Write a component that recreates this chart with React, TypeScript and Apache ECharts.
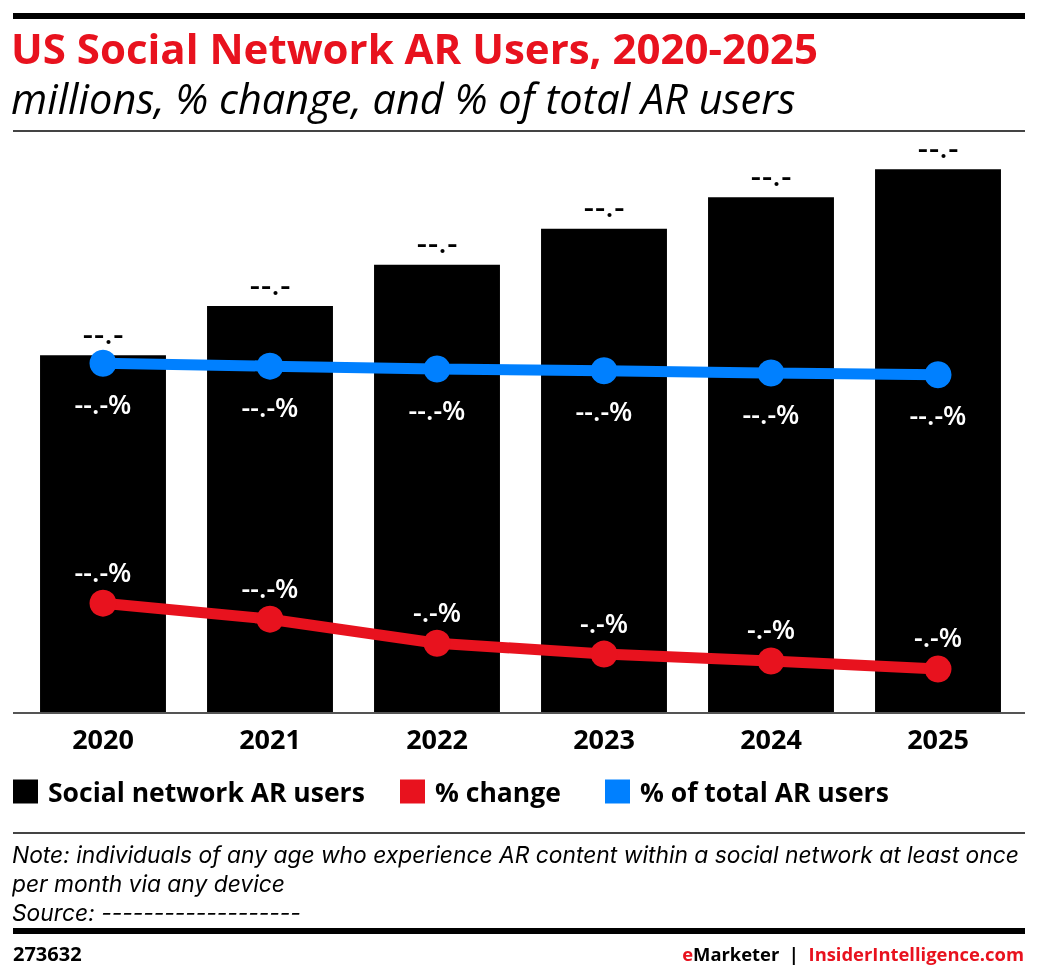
import React, { useEffect, useRef } from "react";
import * as echarts from "echarts";

const categories = ["2020", "2021", "2022", "2023", "2024", "2025"];
const arUsers = [62.4, 71.0, 78.2, 84.5, 90.0, 94.9];
const pctChange = [19.1, 16.3, 12.1, 10.2, 9.0, 7.6];
const pctOfTotal = [61.0, 60.5, 60.0, 59.7, 59.3, 59.0];
const arUsersLabels = ["--.-", "--.-", "--.-", "--.-", "--.-", "--.-"];
const pctChangeLabels = ["--.-%", "--.-%", "-.-%", "-.-%", "-.-%", "-.-%"];
const pctOfTotalLabels = ["--.-%", "--.-%", "--.-%", "--.-%", "--.-%", "--.-%"];
const noteLines = [
  "Note: individuals of any age who experience AR content within a social network at least once",
  "per month via any device",
  "Source: -------------------",
];

const FONT = "'Open Sans', 'Noto Sans', sans-serif";
const NOTE_FONT = "Inter, 'Open Sans', sans-serif";
const RED = "#E8121E";
const BLUE = "#0080FF";

export default function App() {
  const ref = useRef<HTMLDivElement>(null);
  useEffect(() => {
    if (!ref.current) return;
    const chart = echarts.init(ref.current, undefined, { renderer: "svg" });
    const legendText = { fontSize: 26.5, fontWeight: "bold", color: "#000", fontFamily: FONT, padding: [0, 0, 0, 5] };
    chart.setOption({
      animation: false,
      textStyle: { fontFamily: FONT },
      grid: { left: 19.5, right: 16.5, top: 140, bottom: 264.5, containLabel: false },
      xAxis: {
        type: "category",
        data: categories,
        axisLine: { show: false },
        axisTick: { show: false },
        axisLabel: { fontSize: 27, fontWeight: "bold", color: "#000", margin: 12, fontFamily: FONT },
      },
      yAxis: [
        { type: "value", min: 0, max: 100, show: false },
        { type: "value", min: 0, max: 100, show: false },
      ],
      legend: [
        { data: ["Social network AR users"], left: 13, top: 778, icon: "rect", itemWidth: 25, itemHeight: 24, padding: 0, textStyle: legendText },
        { data: ["% change"], left: 400, top: 778, icon: "rect", itemWidth: 25, itemHeight: 24, padding: 0, textStyle: legendText },
        { data: ["% of total AR users"], left: 605, top: 778, icon: "rect", itemWidth: 25, itemHeight: 24, padding: 0, textStyle: legendText },
      ],
      series: [
        {
          name: "Social network AR users",
          type: "bar",
          data: arUsers,
          barWidth: "75.4%",
          itemStyle: { color: "#000" },
          label: {
            show: true,
            position: "top",
            distance: 8,
            formatter: (p: any) => arUsersLabels[p.dataIndex],
            fontSize: 24,
            fontWeight: "bold",
            color: "#000",
            fontFamily: NOTE_FONT,
          },
        },
        {
          name: "% of total AR users",
          type: "line",
          yAxisIndex: 1,
          data: pctOfTotal,
          symbol: "circle",
          symbolSize: 27,
          lineStyle: { color: BLUE, width: 11 },
          itemStyle: { color: BLUE },
          label: {
            show: true,
            position: "bottom",
            distance: 13,
            formatter: (p: any) => pctOfTotalLabels[p.dataIndex],
            fontSize: 27,
            fontWeight: 600,
            color: "#fff",
            fontFamily: FONT,
          },
        },
        {
          name: "% change",
          type: "line",
          yAxisIndex: 1,
          data: pctChange,
          symbol: "circle",
          symbolSize: 27,
          lineStyle: { color: RED, width: 11 },
          itemStyle: { color: RED },
          label: {
            show: true,
            position: "top",
            distance: 5,
            formatter: (p: any) => pctChangeLabels[p.dataIndex],
            fontSize: 27,
            fontWeight: 600,
            color: "#fff",
            fontFamily: FONT,
          },
        },
      ],
      graphic: [
        { type: "rect", shape: { x: 13, y: 13, width: 1012, height: 6 }, style: { fill: "#000" } },
        {
          type: "text",
          x: 11,
          y: 47,
          style: { text: "US Social Network AR Users, 2020-2025", fill: RED, fontSize: 42, fontWeight: "bold", fontFamily: FONT, textVerticalAlign: "middle" },
        },
        {
          type: "text",
          x: 11,
          y: 98,
          style: { text: "millions, % change, and % of total AR users", fill: "#000", fontSize: 41.5, fontStyle: "italic", fontFamily: FONT, textVerticalAlign: "middle" },
        },
        { type: "line", shape: { x1: 13, y1: 131, x2: 1025, y2: 131 }, style: { stroke: "#444", lineWidth: 2 } },
        { type: "line", shape: { x1: 13, y1: 713, x2: 1025, y2: 713 }, style: { stroke: "#555", lineWidth: 2 }, z: 10 },
        { type: "line", shape: { x1: 13, y1: 833, x2: 1025, y2: 833 }, style: { stroke: "#444", lineWidth: 2 } },
        ...noteLines.map((t, i) => ({
          type: "text",
          x: 12,
          y: 854 + i * 29,
          style: { text: t, fill: "#000", fontSize: 22.8, fontStyle: "italic", fontFamily: NOTE_FONT, textVerticalAlign: "middle" },
        })),
        { type: "rect", shape: { x: 13, y: 928, width: 1012, height: 6 }, style: { fill: "#000" } },
        {
          type: "text",
          x: 13,
          y: 953,
          style: { text: "273632", fill: "#000", fontSize: 20, fontWeight: "bold", fontFamily: FONT, textVerticalAlign: "middle" },
        },
        {
          type: "text",
          x: 1024,
          y: 953,
          style: {
            text: "{r|e}{b|Marketer  |  }{r|InsiderIntelligence.com}",
            textAlign: "right",
            textVerticalAlign: "middle",
            rich: {
              r: { fill: RED, fontSize: 18.4, fontWeight: "bold", fontFamily: FONT },
              b: { fill: "#000", fontSize: 18.4, fontWeight: "bold", fontFamily: FONT },
            },
          },
        },
      ],
    });
    return () => chart.dispose();
  }, []);
  return <div ref={ref} style={{ position: "fixed", left: 0, top: 0, width: 1038, height: 977 }} />;
}
